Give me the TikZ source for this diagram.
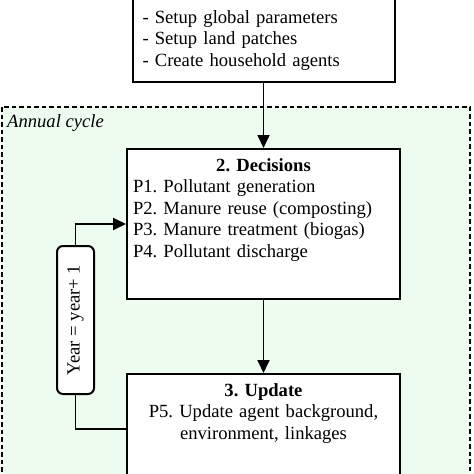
\documentclass[tikz,border=0pt]{standalone}
\usepackage{fontspec}
\setmainfont{Liberation Serif}
\usepackage{tikz}
\usetikzlibrary{arrows.meta}
\definecolor{cyclegreen}{RGB}{238,252,240}
\frenchspacing

\begin{document}
\begin{tikzpicture}
      [
        x=1pt, y=-1pt,
        font=\fontsize{18.6}{21.5}\selectfont,
        box/.style={draw=black, line width=2pt, fill=white, inner xsep=6pt, inner ysep=0pt},
        yearbox/.style={draw=black, line width=2pt, fill=white, rounded corners=6pt,
          minimum width=148pt, minimum height=37pt, inner sep=0pt},
        link/.style={line width=1.8pt, -{Triangle[length=13pt,width=12pt]}},
        loopline/.style={line width=1.8pt}
      ]
      \useasboundingbox (0,0) rectangle (474,474);
      % annual cycle frame
      \draw [fill=cyclegreen, dash pattern=on 4.5pt off 3pt, line width=1.8pt]
      (2,107) rectangle (470,520);
      \node [anchor=base west, inner sep=0pt] (cycle) at (7,127) {\itshape Annual cycle};
      % boxes
      \node [box, anchor=north, inner xsep=10pt, text width=242pt, align=left,
        text height=40pt, text depth=59pt] (setup) at (263.5,-18)
        {- Setup global parameters\\ - Setup land patches\\ - Create household agents};
      \node [box, anchor=north, text width=261pt, align=left,
        text height=22pt, text depth=128pt] (decisions) at (263.5,148)
        {\makebox[\linewidth]{\textbf{2. Decisions}}\\
         P1. Pollutant generation\\
         P2. Manure reuse (composting)\\
         P3. Manure treatment (biogas)\\
         P4. Pollutant discharge};
      \node [box, anchor=north, text width=261pt, align=center,
        text height=22pt, text depth=150pt] (update) at (263.5,373)
        {\textbf{3. Update}\\
         P5. Update agent background,\\
         environment, linkages};
      \node [yearbox, rotate=90] (year) at (75.5,320) {Year = year+ 1};
      % arrows
      \draw [link] (setup.south) -- (decisions.north);
      \draw [link] (decisions.south) -- (update.north);
      \draw [loopline] ([yshift=-56pt]update.north west) -| (year.west);
      \draw [link] (year.east) |- ([yshift=-76pt]decisions.north west);
\end{tikzpicture}
\end{document}
